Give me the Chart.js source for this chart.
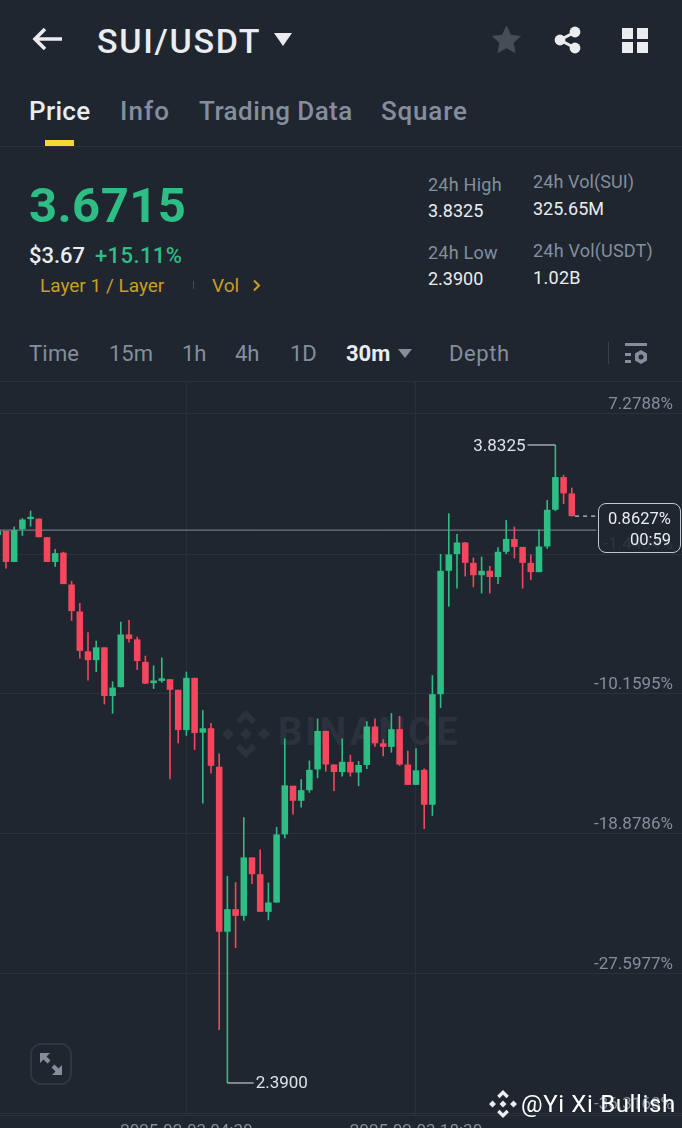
<!DOCTYPE html>
<html>
<head>
<meta charset="utf-8">
<title>SUI/USDT</title>
<script src="https://cdn.jsdelivr.net/npm/chart.js@4.4.0/dist/chart.umd.min.js"></script>
<style>
  html, body { margin: 0; padding: 0; width: 682px; height: 1128px; overflow: hidden; background: #1f2630; }
  body { position: relative; font-family: Roboto, sans-serif; color: #848e9c; }
  .t { position: absolute; white-space: nowrap; transform: translateY(-50%); line-height: 1; }
  .ln { position: absolute; background: #2a313c; }
  svg { position: absolute; }
  #wrap { position: absolute; left: 0; top: 382px; width: 682px; height: 768px; }
  #tag { position: absolute; left: 598px; top: 503px; width: 81px; height: 48px; border: 1px solid #c4c8cd; border-radius: 8px; background: rgba(31,38,48,.86); }
</style>
</head>
<body>
<!-- header -->
<svg style="left:32px;top:26px" width="32" height="26" viewBox="0 0 32 26"><path d="M13 3 3 13l10 10M3 13h27" fill="none" stroke="#eaecef" stroke-width="3.6"/></svg>
<span class="t" style="left:97px;top:41px;font-size:34px;font-weight:500;color:#eaecef;letter-spacing:1.7px">SUI/USDT</span>
<svg style="left:274px;top:33px" width="18" height="13"><path d="M0 0h18L9 13z" fill="#eaecef"/></svg>
<svg style="left:491px;top:24px" width="31" height="31" viewBox="0 0 24 24"><path d="M12 1l3.4 7.3 7.9 1-5.8 5.4 1.5 7.9-7-3.9-7 3.900 1.500-7.900L.7 9.300l7.900-1z" fill="#474d57"/></svg>
<svg style="left:553px;top:26px" width="29" height="28" viewBox="0 0 29 28"><path d="M22 6 7 14l15 8" fill="none" stroke="#eaecef" stroke-width="3"/><circle cx="22" cy="6" r="5.4" fill="#eaecef"/><circle cx="7" cy="14" r="5.4" fill="#eaecef"/><circle cx="22" cy="22" r="5.4" fill="#eaecef"/></svg>
<svg style="left:622px;top:27px" width="26" height="26"><path d="M0 1h11v11H0zM15 1h11v11H15zM0 15h11v11H0zM15 15h11v11H15z" fill="#eaecef"/></svg>

<span class="t" style="left:29px;top:111px;font-size:26px;font-weight:500;color:#eaecef;letter-spacing:.3px">Price</span>
<span class="t" style="left:120px;top:111px;font-size:26px;font-weight:500;letter-spacing:1.1px">Info</span>
<span class="t" style="left:199px;top:111px;font-size:26px;font-weight:500;letter-spacing:.45px">Trading Data</span>
<span class="t" style="left:381px;top:111px;font-size:26px;font-weight:500;letter-spacing:.8px">Square</span>
<div class="ln" style="left:45px;top:140px;width:29px;height:6px;background:#fcd535"></div>
<div class="ln" style="left:0;top:146px;width:682px;height:1px"></div>

<span class="t" style="left:29px;top:205px;font-size:49px;font-weight:700;color:#2ebd85;letter-spacing:.4px">3.6715</span>
<span class="t" style="left:29px;top:256px;font-size:22px;font-weight:500;color:#eaecef">$3.67</span>
<span class="t" style="left:95px;top:256px;font-size:22px;font-weight:500;color:#2ebd85;letter-spacing:.4px">+15.11%</span>
<span class="t" style="left:40px;top:285px;font-size:19px;color:#c99e24">Layer 1 / Layer</span>
<div class="ln" style="left:193px;top:281px;width:1px;height:8px;background:#474d57"></div>
<span class="t" style="left:212px;top:285px;font-size:19px;color:#c99e24">Vol</span>
<svg style="left:252px;top:279px" width="10" height="13"><path d="M2 1.500 7 6.500 2 11.500" fill="none" stroke="#c99e24" stroke-width="2"/></svg>

<span class="t" style="left:428px;top:185px;font-size:18px;letter-spacing:.25px">24h High</span>
<span class="t" style="left:428px;top:211px;font-size:18px;color:#eaecef">3.8325</span>
<span class="t" style="left:428px;top:253px;font-size:18px;letter-spacing:.25px">24h Low</span>
<span class="t" style="left:428px;top:279px;font-size:18px;color:#eaecef">2.3900</span>
<span class="t" style="left:533px;top:182px;font-size:18px;letter-spacing:.1px">24h Vol(SUI)</span>
<span class="t" style="left:533px;top:209px;font-size:18px;color:#eaecef">325.65M</span>
<span class="t" style="left:533px;top:251px;font-size:18px;letter-spacing:.2px">24h Vol(USDT)</span>
<span class="t" style="left:533px;top:278px;font-size:18px;color:#eaecef;letter-spacing:.3px">1.02B</span>

<!-- interval row -->
<span class="t" style="left:29px;top:354px;font-size:22px;letter-spacing:.2px">Time</span>
<span class="t" style="left:109px;top:354px;font-size:22px">15m</span>
<span class="t" style="left:182px;top:354px;font-size:22px">1h</span>
<span class="t" style="left:235px;top:354px;font-size:22px">4h</span>
<span class="t" style="left:290px;top:354px;font-size:22px">1D</span>
<span class="t" style="left:346px;top:354px;font-size:22px;font-weight:700;color:#eaecef">30m</span>
<svg style="left:398px;top:349px" width="14" height="9"><path d="M0 0h14L7 9z" fill="#848e9c"/></svg>
<span class="t" style="left:449px;top:354px;font-size:22px;letter-spacing:.6px">Depth</span>
<div class="ln" style="left:608px;top:342px;width:1px;height:22px;background:#3a414c"></div>
<svg style="left:624px;top:342px" width="25" height="23"><path d="M1 1h22v3H1zM1 11h6v3H1zM1 18h6v3H1z" fill="#848e9c"/><path d="M17 8l6 3.500v7L17 22l-6-3.500v-7z" fill="#848e9c"/><circle cx="17" cy="15" r="2.500" fill="#1f2630"/></svg>
<div class="ln" style="left:0;top:381px;width:682px;height:1px"></div>

<!-- watermark sits under the chart -->
<svg style="left:222px;top:710px" width="48" height="48" viewBox="0 0 48 48"><path d="M24 0l10 10-4 4-6-6-6 6-4-4zM6 18l6 6-6 6-6-6zM42 18l6 6-6 6-6-6zM24 18l6 6-6 6-6-6zM24 48 14 38l4-4 6 6 6-6 4 4z" fill="#2b323d"/></svg>
<span class="t" style="left:278px;top:732px;font-size:38px;font-weight:700;color:#2b323d;letter-spacing:3.100px">BINANCE</span>

<div id="wrap"><canvas id="chart" width="682" height="768"></canvas></div>

<div id="tag"></div>
<span class="t" style="left:608px;top:519px;font-size:16.500px;color:#eaecef">0.8627%</span>
<span class="t" style="left:630px;top:540px;font-size:16.500px;color:#eaecef">00:59</span>

<svg style="left:30px;top:1043px" width="42" height="42"><rect x="1" y="1" width="40" height="40" rx="10" fill="none" stroke="#2f3641" stroke-width="2"/><path d="M10 10h10l-3.500 3.500 4 4-3 3-4-4L10 20zM32 32H22l3.500-3.500-4-4 3-3 4 4L32 22z" fill="#848e9c"/></svg>

<svg style="left:489px;top:1090px" width="28" height="28" viewBox="0 0 48 48"><path d="M24 0l10 10-4 4-6-6-6 6-4-4zM6 18l6 6-6 6-6-6zM42 18l6 6-6 6-6-6zM24 18l6 6-6 6-6-6zM24 48 14 38l4-4 6 6 6-6 4 4z" fill="#eaecef"/></svg>
<span class="t" style="left:521px;top:1104px;font-size:24px;color:#fff;letter-spacing:.65px">@Yi Xi Bullish</span>

<script>
// first value is the cut-off candle at the left edge, x index -1
const opens = [3.629,3.638,3.568,3.642,3.665,3.666,3.624,3.568,3.589,3.517,3.456,3.366,3.346,3.375,3.265,3.285,3.404,3.393,3.342,3.294,3.299,3.303,3.279,3.188,3.306,3.182,3.192,3.105,2.732,2.783,2.768,2.900,2.862,2.777,2.798,2.952,3.062,3.028,3.052,3.099,3.186,3.110,3.093,3.116,3.092,3.109,3.196,3.158,3.150,3.190,3.110,3.064,3.098,3.019,3.269,3.548,3.586,3.612,3.566,3.538,3.548,3.534,3.591,3.620,3.602,3.566,3.545,3.603,3.686,3.760,3.723]
const highs = [3.638,3.638,3.648,3.667,3.684,3.666,3.624,3.597,3.591,3.525,3.475,3.409,3.390,3.375,3.298,3.433,3.437,3.399,3.356,3.334,3.352,3.303,3.279,3.320,3.306,3.233,3.204,3.135,2.858,2.844,2.991,2.900,2.918,2.843,2.969,3.169,3.062,3.077,3.119,3.214,3.186,3.110,3.169,3.132,3.118,3.208,3.214,3.167,3.226,3.220,3.141,3.147,3.101,3.312,3.586,3.678,3.631,3.613,3.578,3.580,3.559,3.601,3.663,3.648,3.602,3.585,3.642,3.708,3.8325,3.765,3.736]
const lows = [3.625,3.553,3.568,3.627,3.648,3.624,3.568,3.557,3.518,3.435,3.350,3.300,3.319,3.246,3.225,3.285,3.386,3.324,3.292,3.281,3.295,3.077,3.158,3.175,3.143,3.022,3.090,2.510,2.390,2.695,2.757,2.840,2.777,2.758,2.798,2.943,2.997,3.013,3.046,3.079,3.094,3.050,3.083,3.083,3.061,3.100,3.150,3.129,3.137,3.107,3.064,3.064,2.964,2.994,3.238,3.467,3.508,3.535,3.511,3.497,3.497,3.518,3.586,3.576,3.508,3.527,3.545,3.598,3.683,3.699,3.6715]
const closes = [3.638,3.568,3.640,3.664,3.670,3.624,3.568,3.588,3.518,3.457,3.367,3.346,3.375,3.265,3.284,3.404,3.394,3.344,3.293,3.300,3.305,3.279,3.188,3.306,3.181,3.192,3.107,2.732,2.783,2.768,2.900,2.862,2.777,2.798,2.952,3.063,3.028,3.052,3.098,3.186,3.110,3.093,3.116,3.092,3.109,3.196,3.158,3.150,3.190,3.110,3.064,3.097,3.019,3.269,3.548,3.585,3.612,3.566,3.538,3.548,3.534,3.591,3.620,3.602,3.566,3.545,3.603,3.686,3.760,3.723,3.6715]

const yTickValues = [3.9026, 3.586, 3.2695, 2.953, 2.6364, 2.3199]
const yTickLabels = ['7.2788%', '-1.4404%', '-10.1595%', '-18.8786%', '-27.5977%', '-36.3168%']
const xTickValues = [22, 50]
const xTickLabels = ['2025-02-03 04:30', '2025-02-03 18:30']

const basePrice = 3.64
const lastPrice = 3.6715
const highPrice = 3.8325
const lowPrice = 2.39

const GREEN = '#2ebd85'
const RED = '#f6465d'
const GRID = '#2a313c'
const LEADER = '#c4c8cd'

const xOf = (i) => i - 1
const colors = closes.map((c, i) => (c >= opens[i] ? GREEN : RED))
const bodies = closes.map((c, i) => ({ x: xOf(i), y: [opens[i], c] }))
const wicks = closes.map((c, i) => ({ x: xOf(i), y: [lows[i], highs[i]] }))

// price text next to the high and low leaders
const peakLabels = {
  id: 'peakLabels',
  afterDatasetsDraw(chart) {
    const { ctx, scales } = chart
    ctx.save()
    ctx.font = '17px Roboto'
    ctx.fillStyle = '#dfe2e6'
    ctx.textBaseline = 'middle'
    ctx.textAlign = 'right'
    ctx.fillText(highPrice.toFixed(4), scales.x.getPixelForValue(63.6) - 2, scales.y.getPixelForValue(highPrice) + 2)
    ctx.textAlign = 'left'
    ctx.fillText(lowPrice.toFixed(4), scales.x.getPixelForValue(30.2) + 2, scales.y.getPixelForValue(lowPrice) + 1)
    ctx.restore()
  },
}

const lineStyle = { type: 'line', pointRadius: 0, fill: false, tension: 0 }

new Chart(document.getElementById('chart'), {
  type: 'bar',
  data: {
    datasets: [
      { ...lineStyle, data: [{ x: -1, y: basePrice }, { x: 72, y: basePrice }], borderColor: 'rgba(205,209,214,.6)', borderWidth: 1, order: 5 },
      { data: wicks, backgroundColor: colors, grouped: false, barPercentage: 1, maxBarThickness: 1.6, order: 3 },
      { data: bodies, backgroundColor: colors, grouped: false, barPercentage: 1, maxBarThickness: 6.6, order: 2 },
      { ...lineStyle, data: [{ x: 67, y: highPrice }, { x: 63.6, y: highPrice }], borderColor: LEADER, borderWidth: 1.2, order: 1 },
      { ...lineStyle, data: [{ x: 27, y: lowPrice }, { x: 30.2, y: lowPrice }], borderColor: LEADER, borderWidth: 1.2, order: 1 },
      { ...lineStyle, data: [{ x: 69.4, y: lastPrice }, { x: 72, y: lastPrice }], borderColor: LEADER, borderWidth: 1.2, borderDash: [4, 4], order: 1 },
    ],
  },
  options: {
    responsive: false,
    animation: false,
    layout: { padding: 0 },
    plugins: { legend: { display: false }, tooltip: { enabled: false } },
    scales: {
      x: {
        type: 'linear',
        offset: false,
        min: -0.732,
        max: 82.44,
        afterBuildTicks: (scale) => { scale.ticks = xTickValues.map((value) => ({ value })) },
        afterFit: (scale) => { scale.height = 35; scale.paddingLeft = 0; scale.paddingRight = 0 },
        grid: { color: GRID, drawTicks: false, offset: false },
        border: { color: GRID },
        ticks: {
          autoSkip: false,
          maxRotation: 0,
          padding: 7,
          color: '#848e9c',
          font: { family: 'Roboto', size: 17 },
          callback: (value, index) => xTickLabels[index],
        },
      },
      y: {
        position: 'right',
        min: 2.3176,
        max: 3.9749,
        afterBuildTicks: (scale) => { scale.ticks = yTickValues.map((value) => ({ value })) },
        afterFit: (scale) => { scale.width = 0; scale.paddingTop = 0; scale.paddingBottom = 0 },
        grid: { color: GRID, drawTicks: false },
        border: { display: false },
        ticks: {
          autoSkip: false,
          mirror: true,
          padding: -9,
          labelOffset: -9,
          color: '#848e9c',
          font: { family: 'Roboto', size: 17 },
          callback: (value, index) => yTickLabels[index],
        },
      },
    },
  },
  plugins: [peakLabels],
})
</script>
</body>
</html>
